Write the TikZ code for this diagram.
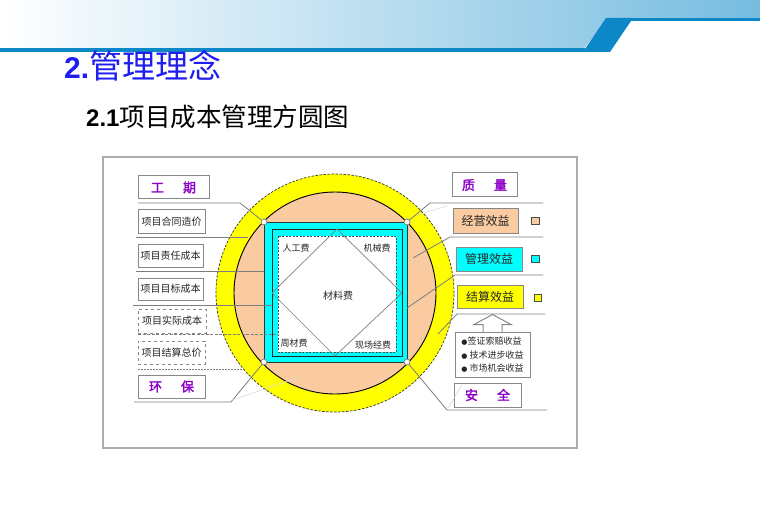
\documentclass[tikz,border=0pt]{standalone}
\usepackage{fontspec}
\setmainfont{Liberation Sans}
\newfontfamily\cjk{Noto Sans CJK SC}
\newfontfamily\cjkb{Noto Sans CJK SC}[FakeBold=2]
\newfontfamily\sym{DejaVu Sans}
\usetikzlibrary{calc}
\definecolor{peach}{RGB}{250,203,160}
\definecolor{cyanf}{RGB}{0,255,255}
\definecolor{yell}{RGB}{255,255,0}
\definecolor{hdrR}{RGB}{118,188,224}
\definecolor{hdrD}{RGB}{12,135,200}
\definecolor{titleblue}{RGB}{30,30,240}
\definecolor{purp}{RGB}{140,0,200}
\definecolor{boxgray}{RGB}{135,135,135}
\definecolor{linegray}{RGB}{125,125,125}
\tikzset{
  lbox/.style={draw=boxgray, line width=1pt, inner sep=0pt, text=black!85,
    font=\cjk\fontsize{10}{10}\selectfont},
  hbox/.style={lbox, text=purp, font=\cjkb\fontsize{13}{13}\selectfont},
  rbox/.style={lbox, font=\cjk\fontsize{12}{12}\selectfont},
  sq/.style={draw=black!70, line width=0.6pt, inner sep=0pt, minimum size=7.5pt},
  conn/.style={draw=linegray, line width=0.8pt},
  faint/.style={draw=gray!30, line width=0.6pt},
  corner/.style={circle, draw=gray, fill=white, line width=0.8pt, inner sep=0pt, minimum size=6pt},
  clab/.style={inner sep=0pt, text=black!85, font=\cjk\fontsize{9}{9}\selectfont}
}
\begin{document}
\begin{tikzpicture}[x=1pt,y=-1pt]
\useasboundingbox (0,0) rectangle (760,505);
\fill[white] (0,0) rectangle (760,505);
% header
\shade[left color=white, right color=hdrR] (0,0) -- (760,0) -- (760,19) -- (607,19) -- (583,50) -- (0,50) -- cycle;
\fill[hdrD] (0,48.5) rectangle (585,52);
\fill[hdrD] (606,18) -- (633,18) -- (610,52) -- (583,52) -- cycle;
\fill[hdrD] (630,18) rectangle (760,21.5);
\node[anchor=base west, inner sep=0pt, text=titleblue] (title) at (64,79)
  {\fontsize{30}{30}\selectfont\bfseries 2.\mdseries\cjk\fontsize{33}{33}\selectfont 管理理念};
\node[anchor=base west, inner sep=0pt, text=black] (subtitle) at (86,127)
  {\fontsize{24}{24}\selectfont\bfseries 2.1\mdseries\cjk\fontsize{25.5}{25.5}\selectfont 项目成本管理方圆图};
% frame
\draw[gray!65, line width=1.6pt] (103,157) rectangle (577,448);
% circles
\fill[yell] (335,293) circle (119pt);
\draw[black!80, line width=0.7pt, dash pattern=on 2.5pt off 1.5pt] (335,293) circle (119pt);
\filldraw[fill=peach, draw=black, line width=0.9pt] (335,293) circle (101pt);
% square
\filldraw[fill=cyanf, draw=black!80, line width=0.6pt] (264,222) rectangle (407,362);
\draw[black!85, line width=0.9pt] (272,229) rectangle (402,356);
\filldraw[fill=white, draw=black!70, line width=0.6pt, dash pattern=on 2pt off 1.5pt] (278,236) rectangle (396,352);
\draw[gray, line width=0.7pt] (337,229) -- (402,293) -- (335,356) -- (272,293) -- cycle;
\node[clab] (rg) at (296,248) {人工费};
\node[clab] (jx) at (377,248) {机械费};
\node[clab, font=\cjk\fontsize{10}{10}\selectfont] (cl) at (338,296) {材料费};
\node[clab] (zc) at (294,343) {周材费};
\node[clab] (xc) at (373,345) {现场经费};
% left boxes
\node[hbox, minimum width=71pt, minimum height=23pt] (gq) at (173.5,187.5) {工\hspace{19pt}期};
\node[lbox, minimum width=67pt, minimum height=23pt] (htzj) at (171.5,221.5) {项目合同造价};
\node[lbox, minimum width=65pt, minimum height=23pt] (zrcb) at (170.5,255.5) {项目责任成本};
\node[lbox, minimum width=65pt, minimum height=22pt] (mbcb) at (170.5,289) {项目目标成本};
\node[lbox, dashed, minimum width=68pt, minimum height=24pt] (sjcb) at (172,321) {项目实际成本};
\node[lbox, dashed, minimum width=67pt, minimum height=23pt] (jszj) at (171.5,352.5) {项目结算总价};
\node[hbox, minimum width=67pt, minimum height=23pt] (hb) at (171.5,386.5) {环\hspace{19pt}保};
% right boxes
\node[hbox, minimum width=65pt, minimum height=24pt] (zl) at (484.5,185) {质\hspace{19pt}量};
\node[rbox, fill=peach, minimum width=65pt, minimum height=24pt] (jyxy) at (485.5,221) {经营效益};
\node[rbox, fill=cyanf, minimum width=66pt, minimum height=24pt] (glxy) at (489,259) {管理效益};
\node[rbox, fill=yell, minimum width=66pt, minimum height=23pt] (jsxy) at (490,296.5) {结算效益};
\node[sq, fill=peach] (sq1) at (535.5,221) {};
\node[sq, fill=cyanf] (sq2) at (535.5,259) {};
\node[sq, fill=yell] (sq3) at (538,298) {};
\node[lbox, minimum width=75pt, minimum height=45pt, align=left, font=\cjk\fontsize{9}{9}\selectfont] (bul) at (492.5,354.5)
  {{\sym\fontsize{7}{7}\selectfont ●}签证索赔收益\\[5pt]{\sym\fontsize{7}{7}\selectfont ●} 技术进步收益\\[4pt]{\sym\fontsize{7}{7}\selectfont ●} 市场机会收益};
\node[hbox, minimum width=67pt, minimum height=24pt] (aq) at (487.5,395) {安\hspace{19pt}全};
% hollow up arrow
\draw[boxgray, fill=white, line width=1pt] ($(bul.north)+(-9.5,0)$) -- ++(0,-7) -- ++(-9,0) -- ++(18.5,-10) -- ++(18.5,10) -- ++(-9,0) -- ++(0,7);
% corner circles
\node[corner] (cTL) at (264,222) {};
\node[corner] (cTR) at (407,222) {};
\node[corner] (cBL) at (264,362) {};
\node[corner] (cBR) at (407,362) {};
% left connectors
\coordinate (l1a) at (138,203); \coordinate (l1b) at (240,203);
\coordinate (l2a) at (136,237); \coordinate (l2b) at (248,237);
\coordinate (l3a) at (136,271); \coordinate (l3b) at (264,271);
\coordinate (l4a) at (133,305); \coordinate (l4b) at (272,305);
\coordinate (l5a) at (138,334); \coordinate (l5b) at (278,334);
\coordinate (l6a) at (138,369); \coordinate (l6b) at (243,369);
\coordinate (l7a) at (134,402); \coordinate (l7b) at (231,402);
\draw[conn] (l1a) -- (l1b) -- (cTL);
\draw[conn] (l2a) -- (l2b);
\draw[conn] (l3a) -- (l3b);
\draw[conn] (l4a) -- (l4b);
\draw[conn, dash pattern=on 3pt off 1.5pt] (l5a) -- (l5b);
\draw[conn, dash pattern=on 1.5pt off 1.5pt] (l6a) -- (l6b);
\draw[conn] (l7a) -- (l7b) -- (cBL);
\coordinate (f1a) at (232,400); \coordinate (f1b) at (297,378);
\draw[faint] (f1a) -- (f1b);
% right connectors
\coordinate (r1a) at (543,203); \coordinate (r1b) at (430,203);
\coordinate (r2a) at (543,237); \coordinate (r2b) at (450,237); \coordinate (r2c) at (413,258);
\coordinate (r3a) at (543,275); \coordinate (r3b) at (455,275); \coordinate (r3c) at (407,308);
\coordinate (r4a) at (545,314); \coordinate (r4b) at (457,314); \coordinate (r4c) at (438,334);
\coordinate (r5a) at (547,410); \coordinate (r5b) at (447,410);
\draw[conn] (r1a) -- (r1b) -- (cTR);
\draw[conn] (r2a) -- (r2b) -- (r2c);
\draw[conn] (r3a) -- (r3b) -- (r3c);
\draw[conn] (r4a) -- (r4b) -- (r4c);
\draw[conn] (r5a) -- (r5b) -- (cBR);
\coordinate (f2a) at (417,215); \coordinate (f2b) at (447,206);
\coordinate (f3a) at (448,408); \coordinate (f3b) at (462,385);
\draw[faint] (f2a) -- (f2b);
\draw[faint] (f3a) -- (f3b);
\end{tikzpicture}
\end{document}
